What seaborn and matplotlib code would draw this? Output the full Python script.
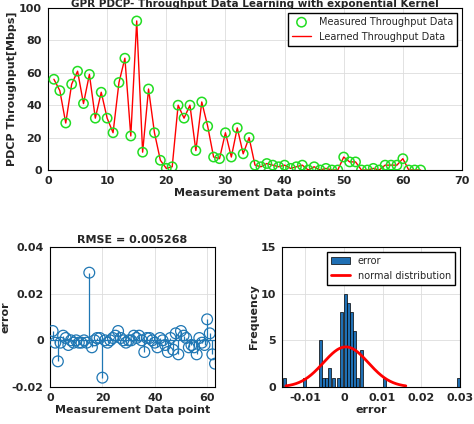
import numpy as np
import pandas as pd
import matplotlib
matplotlib.use("Agg")
import matplotlib.pyplot as plt
import seaborn as sns

sns.set_style("whitegrid")
plt.rcParams['font.family'] = ['DejaVu Sans']

throughput = [56,49,29,53,61,41,59,32,48,32,23,54,69,21,92,11,50,23,6,1,2,40,32,40,12,42,27,8,7,23,
              8,26,10,20,3,2,4,3,2,3,1,2,3,0,2,0,1,0,0,8,5,5,0,0,1,0,3,3,3,7,0,0,0]
errors = [0.004,-0.001,-0.009,-0.001,0.002,0.001,-0.002,0,-0.001,0,-0.001,-0.001,0,-0.001,0.029,-0.003,
          0,0.001,0.001,-0.016,0,-0.001,0,0.001,0.002,0.004,0.001,0,-0.001,0,0,0.002,0.001,0.002,0,
          -0.005,0.001,0.001,0,-0.001,-0.003,0.001,0,-0.002,-0.005,0.001,-0.004,0.003,-0.006,0.004,
          0.002,0.001,-0.003,-0.002,-0.003,-0.006,0.001,-0.001,-0.002,0.009,0.003,-0.006,-0.010]
idx = list(range(1, len(throughput) + 1))
hist_centers = [-0.0153,-0.0103,-0.0061,-0.0053,-0.0045,-0.0037,-0.0028,-0.0013,-0.0005,0.0003,
                0.0011,0.0020,0.0028,0.0036,0.0045,0.0105,0.0295]
hist_counts = [1,1,5,1,1,2,1,1,8,10,9,8,6,1,4,1,1]
bin_w = 0.00078
norm_mean, norm_std, norm_peak = 0.0005, 0.0058, 4.3

fig = plt.figure(figsize=(4.74, 4.24), dpi=100)
ax1 = fig.add_axes([48/474, 1-170/424, 414/474, 162/424])
ax2 = fig.add_axes([50/474, 1-387/424, 165/474, 140/424])
ax3 = fig.add_axes([282/474, 1-387/424, 178/474, 140/424])
fs = 8
for ax in (ax1, ax2, ax3):
    for s in ax.spines.values():
        s.set_color('black'); s.set_linewidth(0.8)
    ax.tick_params(labelsize=fs, pad=1)
    ax.grid(color='#dddddd', linewidth=0.6)

df = pd.DataFrame({'x': idx, 'y': throughput})
sns.lineplot(data=df, x='x', y='y', ax=ax1, color='red', linewidth=1, label='Learned Throughput Data')
sns.scatterplot(data=df, x='x', y='y', ax=ax1, marker='o', facecolor='none', edgecolor='#22dd22',
                s=45, linewidth=1.1, label='Measured Throughput Data', zorder=3)
ax1.set_xlim(0, 70); ax1.set_ylim(0, 100)
ax1.set_xticks(range(0, 71, 10)); ax1.set_yticks(range(0, 101, 20))
ax1.set_xlabel('Measurement Data points', fontsize=fs, fontweight='bold', labelpad=1)
ax1.set_ylabel('PDCP Throughput[Mbps]', fontsize=fs, fontweight='bold', labelpad=1)
ax1.set_title('GPR PDCP- Throughput Data Learning with exponential Kernel', fontsize=7.5, fontweight='bold', pad=1)
h, l = ax1.get_legend_handles_labels()
ax1.legend(h[::-1], l[::-1], loc='upper right', fontsize=7, frameon=True, fancybox=False,
           edgecolor='black', framealpha=1)

ax2.vlines(idx, 0, errors, color='#1f77b4', linewidth=0.9)
ax2.axhline(0, color='#1f77b4', linewidth=0.9)
sns.scatterplot(x=idx, y=errors, ax=ax2, marker='o', facecolor='none', edgecolor='#1f77b4',
                s=60, linewidth=0.9, zorder=3)
ax2.set_xlim(0, 63); ax2.set_ylim(-0.02, 0.04)
ax2.set_xticks([0, 20, 40, 60]); ax2.set_yticks([-0.02, 0, 0.02, 0.04])
ax2.set_yticklabels(['-0.02', '0', '0.02', '0.04'])
ax2.set_xlabel('Measurement Data point', fontsize=fs, fontweight='bold', labelpad=1)
ax2.set_ylabel('error', fontsize=fs, fontweight='bold', labelpad=1)
ax2.set_title('RMSE = 0.005268', fontsize=8, fontweight='bold', pad=3)

ax3.bar(hist_centers, hist_counts, width=bin_w, color='#1f6fb4', edgecolor='black', linewidth=0.5, label='error')
xs = np.linspace(-0.015, 0.016, 200)
pdf = norm_peak * np.exp(-0.5*((xs-norm_mean)/norm_std)**2)
sns.lineplot(x=xs, y=pdf, ax=ax3, color='red', linewidth=2, label='normal distribution')
ax3.set_xlim(-0.016, 0.03); ax3.set_ylim(0, 15)
ax3.set_xticks([-0.01, 0, 0.01, 0.02, 0.03]); ax3.set_yticks([0, 5, 10, 15])
ax3.set_xticklabels(['-0.01', '0', '0.01', '0.02', '0.03'])
ax3.set_xlabel('error', fontsize=fs, fontweight='bold', labelpad=1)
ax3.set_ylabel('Frequency', fontsize=fs, fontweight='bold', labelpad=1)
h, l = ax3.get_legend_handles_labels()
ax3.legend(h[::-1], l[::-1], loc='upper right', fontsize=7, frameon=True, fancybox=False,
           edgecolor='black', framealpha=1)
for ax in (ax1, ax2, ax3):
    for lab in ax.get_xticklabels() + ax.get_yticklabels():
        lab.set_fontweight('bold')

fig.savefig('out.png', dpi=100)
